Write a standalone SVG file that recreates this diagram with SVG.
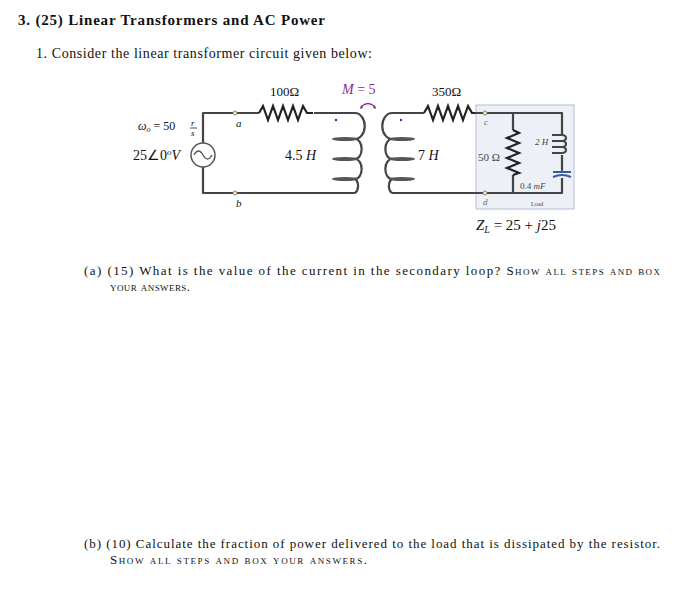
<svg xmlns="http://www.w3.org/2000/svg" width="700" height="600" viewBox="0 0 700 600">
<style>
text{font-family:"Liberation Serif",serif;fill:#111}
.w{fill:none;stroke:#444;stroke-width:2.2;stroke-linejoin:round}
.t{fill:none;stroke:#222;stroke-width:2.2;stroke-linejoin:miter}
.sc{font-variant:small-caps}
.node{fill:#eee;stroke:#8a8a50;stroke-width:1}
</style>
<rect width="700" height="600" fill="#fff"/>
<text x="18" y="25" font-size="15" font-weight="bold" textLength="307">3. (25) Linear Transformers and AC Power</text>
<text x="36" y="58" font-size="14" textLength="336">1. Consider the linear transformer circuit given below:</text>
<g id="load-box"><rect x="476" y="105" width="98" height="104" fill="#eef0f8" stroke="#b8bcd8"/></g>
<g id="connectors">
<path class="w" d="M203 143 V113 H259 M314 113 H355 M203 167 V193 H355"/>
<path class="w" d="M392 113 H424 M475 113 H562 V135 M392 193 H562 V178 M513 113 V130 M513 175 V193 M562 155 V170"/>
</g>
<g id="source"><circle cx="203" cy="155" r="12" fill="#fff" stroke="#555" stroke-width="1.5"/><path d="M194 155 q4.5 -8 9 0 t9 0" fill="none" stroke="#555" stroke-width="1.3"/>
<text x="138" y="130" font-size="12" font-style="italic">ω<tspan font-size="8" dy="2">o</tspan><tspan dy="-2" font-style="normal"> = 50</tspan></text>
<text x="191" y="126" font-size="9" font-style="italic">r</text><line x1="190" y1="128" x2="197" y2="128" stroke="#222" stroke-width="0.8"/><text x="191" y="136" font-size="9" font-style="italic">s</text>
<text x="133" y="160" font-size="14">25∠0<tspan font-size="9" dy="-5" font-style="italic">o</tspan><tspan dy="5" font-style="italic">V</tspan></text></g>
<g id="a"><circle class="node" cx="235" cy="113" r="2"/><text x="236" y="127" font-size="11" font-style="italic">a</text></g>
<g id="b"><circle class="node" cx="235" cy="193" r="2"/><text x="236" y="207" font-size="11" font-style="italic">b</text></g>
<g id="R1"><path class="t" d="M259 113 l4 -7 l5 14 l5 -14 l5 14 l5 -14 l5 14 l5 -14 l5 14 l5 -14 l4 7 h6"/><text x="270" y="96" font-size="13">100Ω</text></g>
<g id="L1"><path class="w" d="M355 113 a6 8 0 0 1 0 26 a6 9 0 0 1 0 20 a6 9 0 0 1 0 20 a6 8 0 0 1 0 14"/>
<ellipse cx="345" cy="139" rx="13" ry="2" fill="#555"/><ellipse cx="345" cy="159" rx="13" ry="2" fill="#555"/><ellipse cx="345" cy="179" rx="13" ry="2" fill="#555"/>
<circle cx="336" cy="120" r="1.2" fill="#33a"/><text x="285" y="160" font-size="14">4.5 <tspan font-style="italic">H</tspan></text></g>
<g id="L2"><path class="w" d="M392 113 a6 8 0 0 0 0 26 a6 9 0 0 0 0 20 a6 9 0 0 0 0 20 a6 8 0 0 0 0 14"/>
<ellipse cx="402" cy="139" rx="13" ry="2" fill="#555"/><ellipse cx="402" cy="159" rx="13" ry="2" fill="#555"/><ellipse cx="402" cy="179" rx="13" ry="2" fill="#555"/>
<circle cx="401" cy="120" r="1.2" fill="#33a"/><text x="418" y="160" font-size="14">7 <tspan font-style="italic">H</tspan></text></g>
<g id="M"><text x="342" y="94" font-size="14" fill="#8b2a8b" style="fill:#8b2a8b"><tspan font-style="italic">M</tspan> = 5</text><path d="M361 107 q7 -7 14 0" fill="none" stroke="#8b2a8b" stroke-width="1.2"/><path d="M360 109 l1 -4 l2 3z M376 109 l-1 -4 l-2 3z" fill="#8b2a8b"/></g>
<g id="R2"><path class="t" d="M424 113 l4 -7 l5 14 l5 -14 l5 14 l5 -14 l5 14 l5 -14 l5 14 l5 -14 l4 7 h3"/><text x="432" y="96" font-size="13">350Ω</text></g>
<g id="c"><circle class="node" cx="485" cy="113" r="2"/><text x="484" y="125" font-size="9" font-style="italic" style="fill:#666">c</text></g>
<g id="d"><circle class="node" cx="485" cy="193" r="2"/><text x="483" y="205" font-size="9" font-style="italic" style="fill:#666">d</text></g>
<g id="R50"><path class="t" d="M513 130 l6 3 l-12 5 l12 5 l-12 5 l12 5 l-12 5 l12 5 l-12 5 l12 5 l-6 2"/><text x="478" y="161" font-size="11" style="fill:#444">50 Ω</text></g>
<g id="L3"><path class="w" d="M562 135 a4 3 0 0 1 0 6 a4 3 0 0 1 0 6 a4 3 0 0 1 0 6 M552 135 h10 M552 141 h10 M552 147 h10 M552 153 h10" stroke-width="1.8"/><text x="535" y="145" font-size="9" font-style="italic" style="fill:#444">2 H</text></g>
<g id="C"><path d="M562 170 V171 M553 172 h18 M553 177 q9 -4 18 0" fill="none" stroke="#3a5a9a" stroke-width="2"/><text x="520" y="189" font-size="9" style="fill:#444">0.4 <tspan font-style="italic">mF</tspan></text><text x="531" y="206" font-size="6" style="fill:#444">Load</text></g>
<text x="476" y="230" font-size="15" font-style="italic">Z<tspan font-size="10" dy="3">L</tspan><tspan dy="-3" font-style="normal"> = 25 + </tspan>j<tspan font-style="normal">25</tspan></text>
<text x="84" y="275" font-size="13" textLength="576">(a) (15) What is the value of the current in the secondary loop? <tspan class="sc">Show all steps and box</tspan></text>
<text x="110" y="291" font-size="13" class="sc" textLength="80">your answers.</text>
<text x="84" y="548" font-size="13" textLength="576">(b) (10) Calculate the fraction of power delivered to the load that is dissipated by the resistor.</text>
<text x="110" y="564" font-size="13" class="sc" textLength="257">Show all steps and box your answers.</text>
</svg>
